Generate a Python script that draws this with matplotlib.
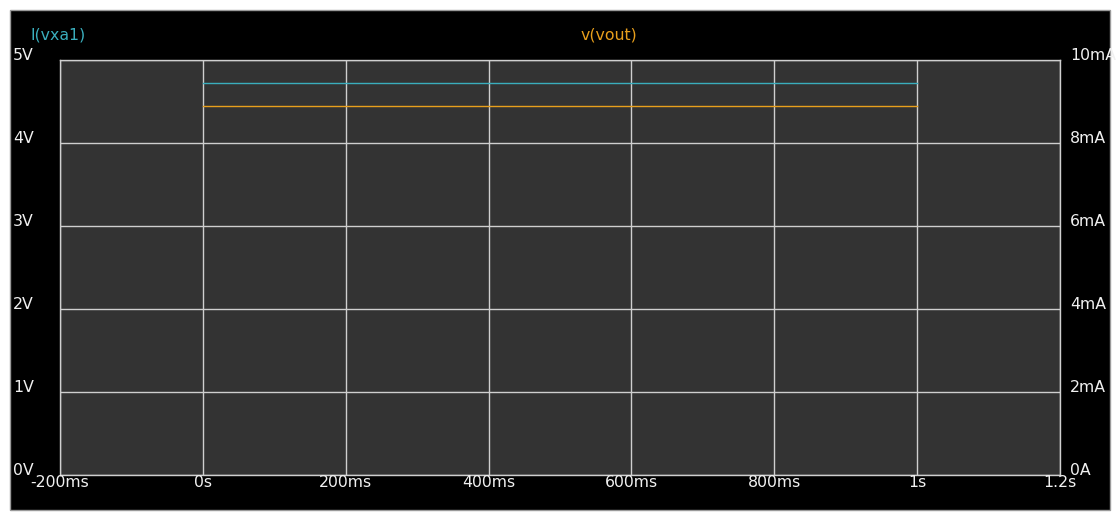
import matplotlib
matplotlib.use("Agg")
import matplotlib.pyplot as plt
from matplotlib.patches import Rectangle
from matplotlib.transforms import blended_transform_factory

# transient sim result
time_s = [0.0, 1.0]
v_vout = [4.445, 4.445]          # V
i_vxa1 = [9.45e-3, 9.45e-3]      # A

x_ticks = [-0.2, 0.0, 0.2, 0.4, 0.6, 0.8, 1.0, 1.2]
x_labels = ["-200ms", "0s", "200ms", "400ms", "600ms", "800ms", "1s", "1.2s"]
v_ticks = [0, 1, 2, 3, 4, 5]
v_labels = ["0V", "1V", "2V", "3V", "4V", "5V"]
i_ticks = [0, 2e-3, 4e-3, 6e-3, 8e-3, 10e-3]
i_labels = ["0A", "2mA", "4mA", "6mA", "8mA", "10mA"]

W, H = 1120, 520
CYAN = "#3aaebd"
ORANGE = "#e89f1c"
GRID = "#cfcfcf"
TXT = "#f0f0f0"
FS = 11.3

plt.rcParams["font.family"] = ["DejaVu Sans"]

fig = plt.figure(figsize=(W / 100, H / 100), dpi=100)
fig.patch.set_facecolor("white")
fig.patches.append(Rectangle((10 / W, 10 / H), 1100 / W, 500 / H, transform=fig.transFigure,
                             facecolor="black", edgecolor="#9a9a9a", linewidth=1, zorder=-10))

ax = fig.add_axes([60 / W, 45 / H, 1000 / W, 415 / H])
ax.set_facecolor("#333333")
ax.set_xlim(-0.2, 1.2)
ax.set_ylim(0, 5)
ax.set_xticks(x_ticks)
ax.set_yticks(v_ticks)
ax.tick_params(length=0, labelbottom=False, labelleft=False)
ax.grid(True, color=GRID, linewidth=1)
for sp in ax.spines.values():
    sp.set_color(GRID)
    sp.set_linewidth(1)

ax2 = ax.twinx()
ax2.set_ylim(0, 10e-3)
ax2.set_yticks(i_ticks)
ax2.tick_params(length=0, labelright=False)
for sp in ax2.spines.values():
    sp.set_visible(False)

ax.plot(time_s, v_vout, color=ORANGE, linewidth=1)
ax2.plot(time_s, i_vxa1, color=CYAN, linewidth=1)

# tick labels
tr_left = blended_transform_factory(fig.transFigure, ax.transData)
for v, lab in zip(v_ticks, v_labels):
    ax.text(13 / W, v, lab, transform=tr_left, ha="left", va="baseline",
            color=TXT, fontsize=FS, clip_on=False)
tr_right = blended_transform_factory(fig.transFigure, ax2.transData)
for v, lab in zip(i_ticks, i_labels):
    ax2.text(1070 / W, v, lab, transform=tr_right, ha="left", va="baseline",
             color=TXT, fontsize=FS, clip_on=False)
tr_bot = blended_transform_factory(ax.transData, fig.transFigure)
for v, lab in zip(x_ticks, x_labels):
    ax.text(v, 1 - 475 / H, lab, transform=tr_bot, ha="center", va="top",
            color=TXT, fontsize=FS, clip_on=False)

# trace names
fig.text(30 / W, 1 - 35 / H, "I(vxa1)", color=CYAN, fontsize=FS, ha="left", va="center")
fig.text(609 / W, 1 - 35 / H, "v(vout)", color=ORANGE, fontsize=FS, ha="center", va="center")

fig.savefig("out.png", dpi=100, facecolor=fig.get_facecolor())
